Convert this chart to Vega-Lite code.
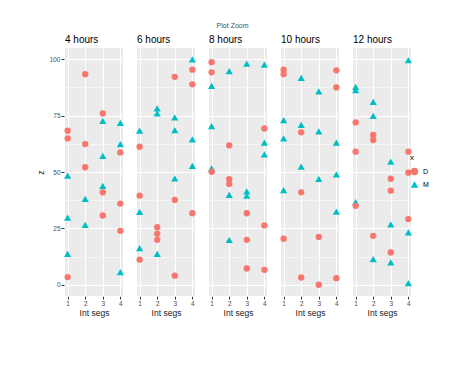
{
  "$schema": "https://vega.github.io/schema/vega-lite/v6.json",
  "background": "white",
  "padding": {"left": 36, "top": 22, "right": 5, "bottom": 5},
  "title": {"text": "Plot Zoom", "fontSize": 7, "fontWeight": "normal", "color": "#4d4d4d", "font": "Liberation Sans", "offset": 6, "anchor": "middle", "frame": "bounds"},
  "config": {
    "font": "Liberation Sans",
    "view": {"fill": "#EBEBEB", "stroke": null},
    "facet": {"spacing": 12},
    "header": {"labelFontSize": 10, "labelColor": "black", "labelAnchor": "start", "labelPadding": 3, "labelFont": "Liberation Sans"},
    "axis": {"domain": false, "tickColor": "#333333", "tickSize": 3, "labelColor": "#4d4d4d", "labelFontSize": 6.5, "labelPadding": 1, "gridColor": "white", "titleFontSize": 8.5, "titleFontWeight": "normal", "titleColor": "#222222"},
    "legend": {"titleFontSize": 8, "titleFontWeight": "normal", "labelFontSize": 7, "symbolSize": 55, "rowPadding": 4, "orient": "none", "legendX": 345, "legendY": 106}
  },
  "data": {"values": [
    {"h":"4 hours","seg":1,"x":"D","z":68.3},{"h":"4 hours","seg":1,"x":"D","z":64.9},{"h":"4 hours","seg":1,"x":"M","z":48.4},{"h":"4 hours","seg":1,"x":"M","z":29.8},{"h":"4 hours","seg":1,"x":"M","z":13.7},{"h":"4 hours","seg":1,"x":"D","z":3.4},
    {"h":"4 hours","seg":2,"x":"D","z":93.4},{"h":"4 hours","seg":2,"x":"D","z":62.4},{"h":"4 hours","seg":2,"x":"D","z":52.1},{"h":"4 hours","seg":2,"x":"M","z":38.1},{"h":"4 hours","seg":2,"x":"M","z":26.5},
    {"h":"4 hours","seg":3,"x":"D","z":76},{"h":"4 hours","seg":3,"x":"M","z":72.7},{"h":"4 hours","seg":3,"x":"M","z":57.1},{"h":"4 hours","seg":3,"x":"M","z":43.8},{"h":"4 hours","seg":3,"x":"D","z":41},{"h":"4 hours","seg":3,"x":"D","z":30.7},
    {"h":"4 hours","seg":4,"x":"M","z":71.8},{"h":"4 hours","seg":4,"x":"M","z":62.4},{"h":"4 hours","seg":4,"x":"D","z":58.7},{"h":"4 hours","seg":4,"x":"D","z":36},{"h":"4 hours","seg":4,"x":"D","z":23.9},{"h":"4 hours","seg":4,"x":"M","z":5.6},
    {"h":"6 hours","seg":1,"x":"M","z":68.3},{"h":"6 hours","seg":1,"x":"D","z":61.2},{"h":"6 hours","seg":1,"x":"D","z":39.5},{"h":"6 hours","seg":1,"x":"M","z":32.3},{"h":"6 hours","seg":1,"x":"M","z":16.2},{"h":"6 hours","seg":1,"x":"D","z":11.1},
    {"h":"6 hours","seg":2,"x":"M","z":78.2},{"h":"6 hours","seg":2,"x":"M","z":76},{"h":"6 hours","seg":2,"x":"D","z":25.5},{"h":"6 hours","seg":2,"x":"D","z":22.6},{"h":"6 hours","seg":2,"x":"D","z":19.9},{"h":"6 hours","seg":2,"x":"M","z":13.7},
    {"h":"6 hours","seg":3,"x":"D","z":92.2},{"h":"6 hours","seg":3,"x":"M","z":74.2},{"h":"6 hours","seg":3,"x":"M","z":68.6},{"h":"6 hours","seg":3,"x":"M","z":47.2},{"h":"6 hours","seg":3,"x":"D","z":37.6},{"h":"6 hours","seg":3,"x":"D","z":4},
    {"h":"6 hours","seg":4,"x":"M","z":100},{"h":"6 hours","seg":4,"x":"D","z":95.4},{"h":"6 hours","seg":4,"x":"D","z":88.9},{"h":"6 hours","seg":4,"x":"M","z":64.5},{"h":"6 hours","seg":4,"x":"M","z":52.7},{"h":"6 hours","seg":4,"x":"D","z":31.7},
    {"h":"8 hours","seg":1,"x":"D","z":98.7},{"h":"8 hours","seg":1,"x":"D","z":94.2},{"h":"8 hours","seg":1,"x":"M","z":88.2},{"h":"8 hours","seg":1,"x":"M","z":70.4},{"h":"8 hours","seg":1,"x":"M","z":51.6},{"h":"8 hours","seg":1,"x":"D","z":50.1},
    {"h":"8 hours","seg":2,"x":"M","z":94.7},{"h":"8 hours","seg":2,"x":"D","z":61.8},{"h":"8 hours","seg":2,"x":"D","z":46.8},{"h":"8 hours","seg":2,"x":"D","z":44.7},{"h":"8 hours","seg":2,"x":"M","z":39.8},{"h":"8 hours","seg":2,"x":"M","z":19.9},
    {"h":"8 hours","seg":3,"x":"M","z":98.1},{"h":"8 hours","seg":3,"x":"M","z":41.4},{"h":"8 hours","seg":3,"x":"M","z":39.5},{"h":"8 hours","seg":3,"x":"D","z":31.7},{"h":"8 hours","seg":3,"x":"D","z":19.9},{"h":"8 hours","seg":3,"x":"D","z":7.2},
    {"h":"8 hours","seg":4,"x":"M","z":97.6},{"h":"8 hours","seg":4,"x":"D","z":69.3},{"h":"8 hours","seg":4,"x":"M","z":63},{"h":"8 hours","seg":4,"x":"M","z":57.8},{"h":"8 hours","seg":4,"x":"D","z":26.3},{"h":"8 hours","seg":4,"x":"D","z":6.6},
    {"h":"10 hours","seg":1,"x":"D","z":95.4},{"h":"10 hours","seg":1,"x":"D","z":93.4},{"h":"10 hours","seg":1,"x":"M","z":73},{"h":"10 hours","seg":1,"x":"M","z":64.9},{"h":"10 hours","seg":1,"x":"M","z":42},{"h":"10 hours","seg":1,"x":"D","z":20.4},
    {"h":"10 hours","seg":2,"x":"M","z":91.7},{"h":"10 hours","seg":2,"x":"M","z":70.9},{"h":"10 hours","seg":2,"x":"D","z":67.6},{"h":"10 hours","seg":2,"x":"M","z":52.4},{"h":"10 hours","seg":2,"x":"D","z":41},{"h":"10 hours","seg":2,"x":"D","z":3.2},
    {"h":"10 hours","seg":3,"x":"M","z":85.8},{"h":"10 hours","seg":3,"x":"M","z":68},{"h":"10 hours","seg":3,"x":"M","z":47},{"h":"10 hours","seg":3,"x":"D","z":21.2},{"h":"10 hours","seg":3,"x":"D","z":0},
    {"h":"10 hours","seg":4,"x":"D","z":95.1},{"h":"10 hours","seg":4,"x":"D","z":87.5},{"h":"10 hours","seg":4,"x":"M","z":63},{"h":"10 hours","seg":4,"x":"M","z":49},{"h":"10 hours","seg":4,"x":"M","z":32.4},{"h":"10 hours","seg":4,"x":"D","z":2.9},
    {"h":"12 hours","seg":1,"x":"M","z":87.8},{"h":"12 hours","seg":1,"x":"M","z":86.3},{"h":"12 hours","seg":1,"x":"D","z":72},{"h":"12 hours","seg":1,"x":"D","z":59},{"h":"12 hours","seg":1,"x":"M","z":36.6},{"h":"12 hours","seg":1,"x":"D","z":35},
    {"h":"12 hours","seg":2,"x":"M","z":81.1},{"h":"12 hours","seg":2,"x":"M","z":74.9},{"h":"12 hours","seg":2,"x":"D","z":66.4},{"h":"12 hours","seg":2,"x":"D","z":64.2},{"h":"12 hours","seg":2,"x":"D","z":21.7},{"h":"12 hours","seg":2,"x":"M","z":11.4},
    {"h":"12 hours","seg":3,"x":"M","z":54.6},{"h":"12 hours","seg":3,"x":"D","z":47},{"h":"12 hours","seg":3,"x":"D","z":41.7},{"h":"12 hours","seg":3,"x":"M","z":26.8},{"h":"12 hours","seg":3,"x":"D","z":14.3},{"h":"12 hours","seg":3,"x":"M","z":9.9},
    {"h":"12 hours","seg":4,"x":"M","z":99.6},{"h":"12 hours","seg":4,"x":"D","z":59},{"h":"12 hours","seg":4,"x":"D","z":49.7},{"h":"12 hours","seg":4,"x":"D","z":29.1},{"h":"12 hours","seg":4,"x":"M","z":23.2},{"h":"12 hours","seg":4,"x":"M","z":0.7}
  ]},
  "facet": {"column": {"field": "h", "type": "nominal", "sort": ["4 hours", "6 hours", "8 hours", "10 hours", "12 hours"], "title": null}},
  "spec": {
    "width": 58,
    "height": 248,
    "mark": {"type": "point", "filled": true, "opacity": 1},
    "encoding": {
      "x": {"field": "seg", "type": "quantitative", "title": "Int segs",
        "scale": {"domain": [0.85, 4.15], "nice": false, "zero": false},
        "axis": {"values": [1, 1.5, 2, 2.5, 3, 3.5, 4], "format": "d", "labelExpr": "datum.value % 1 === 0 ? datum.label : ''",
          "gridWidth": {"condition": {"test": "datum.value % 1 !== 0", "value": 0.5}, "value": 1},
          "tickOpacity": {"condition": {"test": "datum.value % 1 !== 0", "value": 0}, "value": 1},
          "titlePadding": 2}},
      "y": {"field": "z", "type": "quantitative", "title": "z",
        "scale": {"domain": [-5, 105], "nice": false, "zero": false},
        "axis": {"values": [0, 12.5, 25, 37.5, 50, 62.5, 75, 87.5, 100], "format": "d", "labelExpr": "datum.value % 25 === 0 ? datum.label : ''",
          "gridWidth": {"condition": {"test": "datum.value % 25 !== 0", "value": 0.5}, "value": 1},
          "tickOpacity": {"condition": {"test": "datum.value % 25 !== 0", "value": 0}, "value": 1},
          "titlePadding": 4}},
      "size": {"condition": {"test": "datum.x === 'M'", "value": 52}, "value": 40},
      "color": {"field": "x", "type": "nominal", "title": "x", "scale": {"domain": ["D", "M"], "range": ["#F8766D", "#00BFC4"]}},
      "shape": {"field": "x", "type": "nominal", "title": "x", "scale": {"domain": ["D", "M"], "range": ["circle", "triangle-up"]}}
    }
  }
}
